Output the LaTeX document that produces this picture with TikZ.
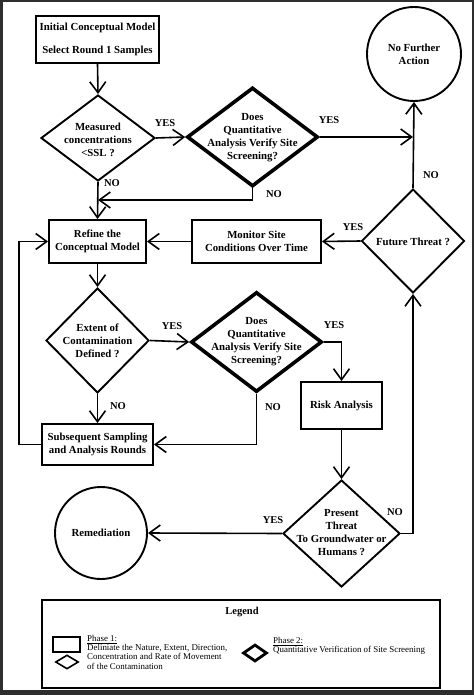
\documentclass[tikz,border=0pt]{standalone}
\usepackage{fontspec}
\setmainfont{Liberation Serif}
\usetikzlibrary{shapes.geometric,arrows.meta,calc}
\begin{document}
\begin{tikzpicture}[x=1pt,y=-1pt,
  box/.style={draw,line width=1.9pt,inner sep=0pt,align=center,font=\bfseries\fontsize{10.8}{12.8}\selectfont},
  dia/.style={draw,diamond,line width=1.9pt,inner sep=0pt},
  thickdia/.style={dia,line width=3.6pt},
  circ/.style={draw,circle,line width=1.9pt,inner sep=0pt,align=center,font=\bfseries\fontsize{10.8}{12.8}\selectfont},
  txt/.style={align=center,inner sep=0pt,font=\bfseries\fontsize{10.8}{12.8}\selectfont},
  lbl/.style={inner sep=0pt,font=\bfseries\fontsize{10.5}{12}\selectfont},
  arr/.style={line width=1.6pt,-{Straight Barb[length=11pt,width=16pt]}},
  lgtxt/.style={align=left,anchor=north west,inner sep=0pt,font=\fontsize{8.9}{9.3}\selectfont}
]
\useasboundingbox (0,0) rectangle (474,695);
\fill[black!82] (0,0) rectangle (474,695);
\fill[white] (3,2) rectangle (471.5,690);

% nodes
\node[box,minimum width=123pt,minimum height=47pt] (init) at (97.5,39.5) {Initial Conceptual Model\\[11pt]Select Round 1 Samples};
\node[dia,minimum width=114pt,minimum height=86pt] (d1) at (98,138) {};
\node[txt] (d1t) at (98,140) {Measured\\concentrations\\<SSL ?};
\node[thickdia,minimum width=131pt,minimum height=99pt] (d2) at (252.5,137) {};
\node[txt] (d2t) at (252.5,137.5) {Does\\Quantitative\\Analysis Verify Site\\Screening?};
\node[circ,minimum size=94pt] (nfa) at (414,54) {No Further\\Action};
\node[dia,minimum width=103pt,minimum height=104pt] (ft) at (413,241) {};
\node[txt] (ftt) at (413,242) {Future Threat ?};
\node[box,minimum width=97pt,minimum height=43pt] (ref) at (97.5,241.5) {Refine the\\Conceptual Model};
\node[box,minimum width=129pt,minimum height=43pt] (mon) at (256.5,241.5) {Monitor Site\\Conditions Over Time};
\node[dia,minimum width=103pt,minimum height=105pt] (d3) at (97.5,340.5) {};
\node[txt] (d3t) at (97.5,340.5) {Extent of\\Contamination\\Defined ?};
\node[thickdia,minimum width=131pt,minimum height=100pt] (d4) at (256.5,342) {};
\node[txt] (d4t) at (256.5,341.5) {Does\\Quantitative\\Analysis Verify Site\\Screening?};
\node[box,minimum width=81pt,minimum height=47pt] (risk) at (341.5,405.5) {Risk Analysis};
\node[box,minimum width=111pt,minimum height=41pt] (sub) at (97.5,444.5) {Subsequent Sampling\\and Analysis Rounds};
\node[dia,minimum width=117pt,minimum height=107pt] (pt) at (341.5,533.5) {};
\node[txt] (ptt) at (341.5,532.5) {Present\\Threat\\To Groundwater or\\Humans ?};
\node[circ,minimum size=92pt] (rem) at (101,533) {Remediation};

% connectors
\coordinate (j1) at (98,200);
\coordinate (j2) at (413,137);
\draw[arr] (init.south) -- (d1.north);
\draw[arr] (d1.east) -- (d2.west);
\draw[arr] (d2.east) -- (j2);
\draw[arr] (ft.north) -- (nfa.south);
\draw[arr] (d1.south) -- (ref.north);
\draw[arr] (d2.south) |- (j1);
\draw[arr] (ft.west) -- (mon.east);
\draw[arr] (mon.west) -- (ref.east);
\draw[arr] (ref.south) -- (d3.north);
\draw[arr] (d3.east) -- (d4.west);
\draw[arr] (d4.east) -| (risk.north);
\draw[arr] (d3.south) -- (sub.north);
\draw[arr] (d4.south) |- (sub.east);
\draw[arr] (sub.west) -- ++(-22,0) |- (ref.west);
\draw[arr] (risk.south) -- (pt.north);
\draw[arr] (pt.west) -- (rem.east);
\draw[arr] (pt.east) -| (ft.south);

% labels
\node[lbl] (l1) at (165,123) {YES};
\node[lbl] (l2) at (329,120) {YES};
\node[lbl] (l3) at (431,175) {NO};
\node[lbl] (l4) at (112,183) {NO};
\node[lbl] (l5) at (274,194) {NO};
\node[lbl] (l6) at (353,227) {YES};
\node[lbl] (l7) at (172,326) {YES};
\node[lbl] (l8) at (334,325) {YES};
\node[lbl] (l9) at (118,406) {NO};
\node[lbl] (l10) at (273,407) {NO};
\node[lbl] (l11) at (273,520) {YES};
\node[lbl] (l12) at (395,512) {NO};

% legend
\node[draw,line width=1.5pt,minimum width=398pt,minimum height=88pt,inner sep=0pt] (leg) at (241,644) {};
\node[inner sep=0pt,font=\bfseries\fontsize{10.5}{12}\selectfont] (legt) at (242,612) {Legend};
\node[draw,line width=1.8pt,minimum width=27pt,minimum height=15pt,inner sep=0pt] (lr) at (66.5,644.5) {};
\node[dia,line width=1.6pt,minimum width=23pt,minimum height=14pt] (ld) at (67,662) {};
\node[thickdia,line width=2.8pt,minimum width=24pt,minimum height=17pt] (ld2) at (255,653) {};
\node[lgtxt] (p1) at (87,635) {\underline{Phase 1:}\\Deliniate the Nature, Extent, Direction,\\Concentration and Rate of Movement\\of the Contamination};
\node[lgtxt] (p2) at (273,637) {\underline{Phase 2:}\\Quantitative Verification of Site Screening};
\end{tikzpicture}
\end{document}
